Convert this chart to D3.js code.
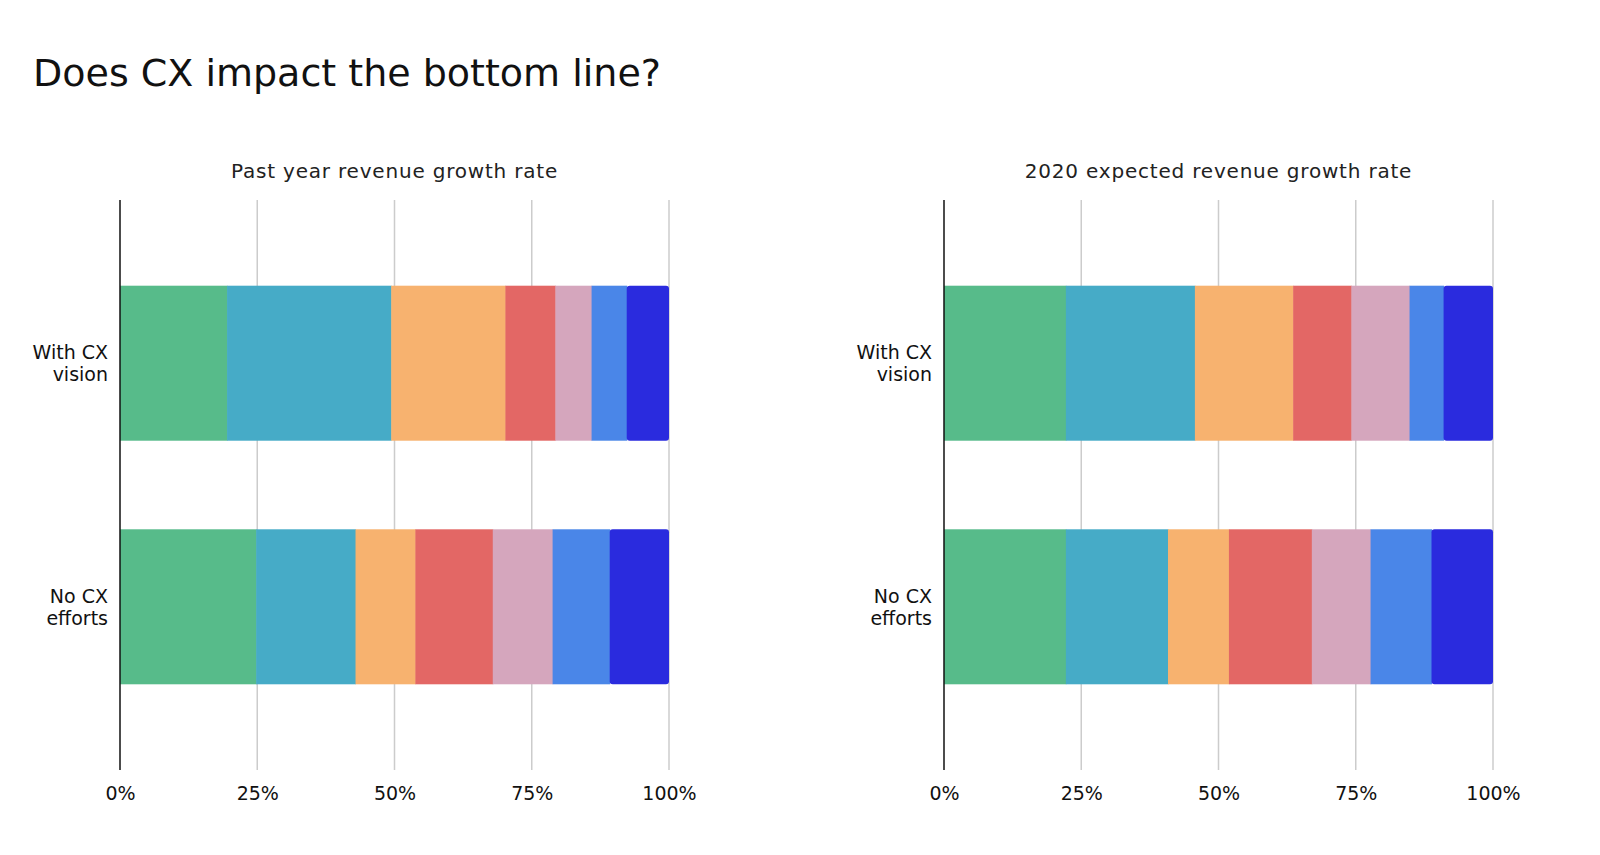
<!DOCTYPE html>
<html><head><meta charset="utf-8">
<script src="https://cdn.jsdelivr.net/npm/d3@7"></script>
<style>body{margin:0;background:#fff;font-family:"DejaVu Sans",sans-serif}</style>
</head><body><svg id="c" width="1600" height="855"></svg>
<script>
var categories = ['With CX vision', 'No CX efforts']
var categoryLines = [['With CX', 'vision'], ['No CX', 'efforts']]
var segmentColors = ['#57bb8a', '#46abc7', '#f7b26f', '#e36765', '#d5a6bd', '#4a86e8', '#2a2bde']
var pastValues = [
  [19.5, 29.9, 20.8, 9.1, 6.6, 6.4, 7.7],
  [24.8, 18.1, 10.9, 14.1, 10.9, 10.4, 10.8]
]
var expectedValues = [
  [22.2, 23.5, 17.9, 10.6, 10.6, 6.2, 9.0],
  [22.2, 18.6, 11.1, 15.1, 10.7, 11.1, 11.2]
]
var tickValues = [0, 25, 50, 75, 100]
var panels = [
  {title: 'Past year revenue growth rate', values: pastValues, x0: 120},
  {title: '2020 expected revenue growth rate', values: expectedValues, x0: 944}
]

var font = '"DejaVu Sans",sans-serif'
var svg = d3.select('#c').attr('font-family', font)
svg.append('text').attr('x', 33).attr('y', 86).attr('font-size', 38).attr('fill', '#111')
  .text('Does CX impact the bottom line?')

panels.forEach(function(p){
  var x = d3.scaleLinear().domain([0, 100]).range([p.x0, p.x0 + 549])
  var y = d3.scalePoint().domain(categories).range([200, 770]).padding(0.67)
  var g = svg.append('g')

  g.append('text').attr('x', x(50)).attr('y', 178).attr('text-anchor', 'middle')
    .attr('font-size', 20).attr('letter-spacing', 0.8).attr('fill', '#222').text(p.title)

  g.selectAll('line.grid').data(tickValues.slice(1)).enter().append('line')
    .attr('x1', x).attr('x2', x).attr('y1', 200).attr('y2', 770)
    .attr('stroke', '#ccc').attr('stroke-width', 1.5)

  categories.forEach(function(c, ci){
    var acc = 0
    var segs = p.values[ci].map(function(v){ var s = {start: acc, v: v}; acc += v; return s })
    var scale = 100 / acc
    var bar = g.append('g')
    bar.selectAll('rect').data(segs).enter().append('rect')
      .attr('x', function(d){ return x(d.start * scale) })
      .attr('width', function(d, i){ return x(d.v * scale) - x(0) + (i < 6 ? 0.5 : 0) })
      .attr('y', y(c) - 77.5).attr('height', 155)
      .attr('rx', function(d, i){ return i == 6 ? 3 : 0 })
      .attr('fill', function(d, i){ return segmentColors[i] })
    var t = g.append('text').attr('x', p.x0 - 12).attr('text-anchor', 'end')
      .attr('font-size', 19).attr('fill', '#111')
    categoryLines[ci].forEach(function(l, li){
      t.append('tspan').attr('x', p.x0 - 12).attr('y', y(c) - 4 + li * 22).text(l)
    })
  })

  g.append('line').attr('x1', x(0)).attr('x2', x(0)).attr('y1', 200).attr('y2', 770)
    .attr('stroke', '#111').attr('stroke-width', 1.5)

  var ax = d3.axisBottom(x).tickValues(tickValues).tickSize(0).tickFormat(function(d){ return d + '%' })
  var axg = g.append('g').attr('transform', 'translate(0,780)').call(ax)
  axg.select('.domain').remove()
  axg.selectAll('text').attr('font-size', 19).attr('fill', '#111')
    .attr('font-family', font).attr('dy', '0.9em')
})
</script></body></html>
